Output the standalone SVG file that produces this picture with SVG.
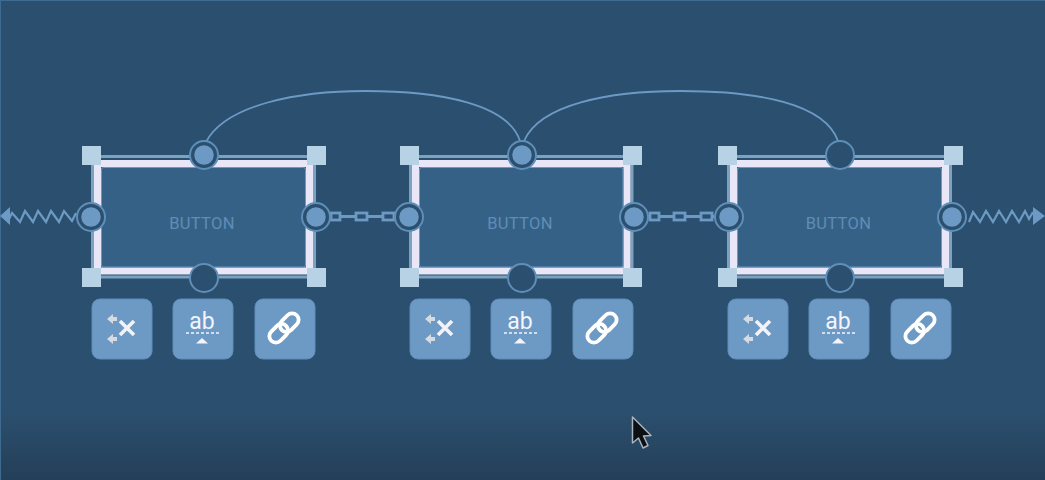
<svg xmlns="http://www.w3.org/2000/svg" width="1045" height="480" viewBox="0 0 1045 480">
<style>
.frame{fill:none;stroke:#7ba2bf;stroke-width:3}
.box{fill:#366187;stroke:#e8e6f7;stroke-width:7}
.boxin{fill:none;stroke:#6a9ac4;stroke-width:1}
.h{fill:#b8d2e5}
.on{fill:#6d9ac5;stroke:#2b4f6e;stroke-width:4.500}
.ring{fill:none;stroke:#5f8fb8;stroke-width:2}
.off{fill:#2b4f6e;stroke:#5f8fb8;stroke-width:2}
.lbl{font:16.500px "Roboto","Liberation Sans",sans-serif;fill:#5f8db6;text-anchor:middle;letter-spacing:.3px}
.tool{fill:#6d9ac5;stroke:#5f8db8;stroke-width:1}
.ab{font:23px "Roboto","Liberation Sans",sans-serif;fill:#f4f4fa;text-anchor:middle}
.x{fill:none;stroke:#f2f2f8;stroke-width:3.600}
.link{fill:none;stroke:#fff;stroke-width:3.800}
.arc{fill:none;stroke:#6d9ac5;stroke-width:1.800}
.zig{fill:none;stroke:#6d9ac5;stroke-width:2.200}
.chain{fill:#2b4f6e;stroke:#6d9ac5;stroke-width:2.800}
</style>
<defs>
<linearGradient id="bg" x1="0" y1="0" x2="0" y2="1">
<stop offset="0" stop-color="#2b4f6e"/><stop offset=".86" stop-color="#2b4f6e"/><stop offset="1" stop-color="#243f58"/>
</linearGradient>
<g id="tools">
<rect class="tool" x="0" y="0" width="60" height="60" rx="8"/>
<path class="x" d="M28 22 L42 36 M42 22 L28 36"/>
<path d="M15 20 l6 -5 v3 h4 v4 h-4 v3z M15 40 l6 -5 v3 h4 v4 h-4 v3z" fill="#d6dbe2"/>
<rect class="tool" x="81" y="0" width="60" height="60" rx="8"/>
<text class="ab" x="110" y="30">ab</text>
<path d="M94 34 H127" stroke="#f4f4fa" stroke-width="1.300" stroke-dasharray="3 2" fill="none"/>
<path d="M104 44.500 L110 39 L116 44.500Z" fill="#f4f4fa"/>
<rect class="tool" x="163" y="0" width="60" height="60" rx="8"/>
<g transform="translate(192,29) rotate(-45)">
<rect class="link" x="-18" y="-6.500" width="21" height="13" rx="6.500"/>
<rect class="link" x="-3" y="-6.500" width="21" height="13" rx="6.500"/>
</g>
</g>
</defs>
<rect width="1045" height="480" fill="url(#bg)"/>
<path d="M.5 0V480M0 .5H1045" stroke="#3f6b90" stroke-width="1" fill="none"/>
<g id="connectors">
<path class="arc" d="M206 142 C226 104 300 91 365 91 C440 91 508 104 520 141"/>
<path class="arc" d="M524 141 C540 104 610 91 680 91 C760 91 825 104 838 141"/>
<path class="zig" d="M76 213 L72 221 L64 211 L59 222 L51 211 L46 222 L38 211 L33 222 L25 211 L20 222 L12 213 L9 219"/>
<path d="M0 216 L10 207 V225Z" fill="#6d9ac5"/>
<path class="zig" d="M969 222 L973 212 L980 222 L986 211 L993 222 L999 211 L1006 222 L1012 211 L1019 222 L1025 211 L1029 219 L1033 212"/>
<path d="M1045 216 L1033 207 V225Z" fill="#6d9ac5"/>
<path d="M330 216.500H396M648 216.500H714" stroke="#6d9ac5" stroke-width="2.800" fill="none"/>
<rect class="chain" x="331" y="213" width="9" height="7"/><rect class="chain" x="356" y="213" width="11" height="7"/><rect class="chain" x="383" y="213" width="11" height="7"/>
<rect class="chain" x="650" y="213" width="9" height="7"/><rect class="chain" x="674" y="213" width="11" height="7"/><rect class="chain" x="701" y="213" width="11" height="7"/>
</g>
<g id="node1">
<rect class="frame" x="92.500" y="156.500" width="222" height="120.500"/>
<rect class="box" x="97.500" y="163.500" width="212" height="107.500" rx="2"/><rect class="boxin" x="101.500" y="167.500" width="204" height="99.500" rx="2"/>
<text class="lbl" x="202" y="229">BUTTON</text>
<rect class="h" x="82" y="146" width="19" height="19"/><rect class="h" x="307" y="146" width="19" height="19"/><rect class="h" x="82" y="268" width="19" height="19"/><rect class="h" x="307" y="268" width="19" height="19"/>
<circle class="on" cx="204" cy="155" r="12"/><circle class="ring" cx="204" cy="155" r="14"/>
<circle class="on" cx="91" cy="217" r="12"/><circle class="ring" cx="91" cy="217" r="14"/>
<circle class="on" cx="316" cy="217" r="12"/><circle class="ring" cx="316" cy="217" r="14"/>
<circle class="off" cx="204" cy="278" r="14"/>
</g>
<g id="node2">
<rect class="frame" x="410.500" y="156.500" width="221.500" height="120.500"/>
<rect class="box" x="415.500" y="163.500" width="211.500" height="107.500" rx="2"/><rect class="boxin" x="419.500" y="167.500" width="203.500" height="99.500" rx="2"/>
<text class="lbl" x="520" y="229">BUTTON</text>
<rect class="h" x="400" y="146" width="19" height="19"/><rect class="h" x="623" y="146" width="19" height="19"/><rect class="h" x="400" y="268" width="19" height="19"/><rect class="h" x="623" y="268" width="19" height="19"/>
<circle class="on" cx="522" cy="155" r="12"/><circle class="ring" cx="522" cy="155" r="14"/>
<circle class="on" cx="409" cy="217" r="12"/><circle class="ring" cx="409" cy="217" r="14"/>
<circle class="on" cx="634" cy="217" r="12"/><circle class="ring" cx="634" cy="217" r="14"/>
<circle class="off" cx="522" cy="278" r="14"/>
</g>
<g id="node3">
<rect class="frame" x="728.500" y="156.500" width="222" height="120.500"/>
<rect class="box" x="733.500" y="163.500" width="212" height="107.500" rx="2"/><rect class="boxin" x="737.500" y="167.500" width="204" height="99.500" rx="2"/>
<text class="lbl" x="838.500" y="229">BUTTON</text>
<rect class="h" x="718" y="146" width="19" height="19"/><rect class="h" x="944" y="146" width="19" height="19"/><rect class="h" x="718" y="268" width="19" height="19"/><rect class="h" x="944" y="268" width="19" height="19"/>
<circle class="off" cx="840" cy="155" r="14"/>
<circle class="on" cx="729" cy="217" r="12"/><circle class="ring" cx="729" cy="217" r="14"/>
<circle class="on" cx="952" cy="217" r="12"/><circle class="ring" cx="952" cy="217" r="14"/>
<circle class="off" cx="840" cy="278" r="14"/>
</g>
<g id="tools1"><use href="#tools" x="92" y="299"/></g>
<g id="tools2"><use href="#tools" x="410" y="299"/></g>
<g id="tools3"><use href="#tools" x="728" y="299"/></g>
<g id="cursor"><path d="M632.500 417 V443 L638.500 438 L643 448 L648 445.500 L643.500 436 L651 435.500Z" fill="#0c0f14" stroke="#a9b4bf" stroke-width="1.500" stroke-linejoin="round"/></g>
</svg>
